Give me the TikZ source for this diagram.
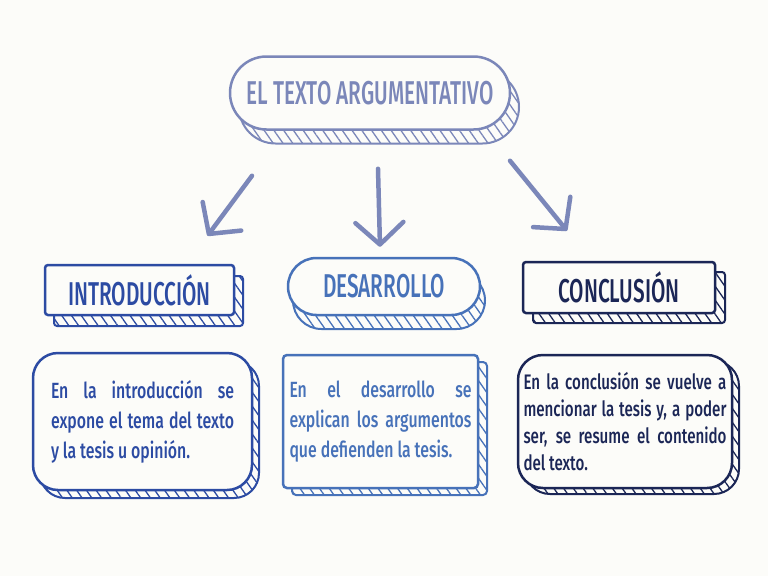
\documentclass[tikz,border=0pt]{standalone}
\usepackage{fontspec}
\usepackage{tikz}
\usetikzlibrary{arrows.meta,shadows,patterns.meta,shapes.misc}
\newfontfamily\headfont{Fira Sans Medium}[FakeStretch=0.63]
\newfontfamily\bodyfont{Fira Sans Medium}[FakeStretch=0.72]
\definecolor{bgc}{HTML}{FCFCF9}
\definecolor{titlec}{HTML}{7B87B9}
\definecolor{introc}{HTML}{2C4BA3}
\definecolor{desc}{HTML}{4772B9}
\definecolor{concc}{HTML}{1B2656}

\begin{document}
\begin{tikzpicture}[x=1pt,y=-1pt,
	depth/.style n args={3}{general shadow={shadow xshift=#1, shadow yshift=-#2, draw=#3, line width=2pt, pattern={Lines[angle=-55,distance=8pt,line width=1.3pt]}, pattern color=#3}},
	box/.style={draw=#1, fill=bgc, line width=2.5pt, text=#1, inner sep=0pt},
	head/.style={font=\headfont\fontsize{33}{33}\selectfont},
	body/.style={font=\bodyfont\fontsize{22}{30}\selectfont, align=justify},
	arr/.style={draw=titlec, line width=4.5pt, line cap=round, -{Straight Barb[length=22pt,width=48pt,round]}}]
	\fill[bgc] (0,0) rectangle (768,576);
	\useasboundingbox (0,0) rectangle (768,576);
	% heads
	\node[box=titlec, head, rounded rectangle, minimum width=280pt, minimum height=73pt, depth={9pt}{14pt}{titlec}] (title) at (370,93) {EL TEXTO ARGUMENTATIVO};
	\node[box=introc, head, minimum width=189pt, minimum height=50pt, rounded corners=3pt, depth={9pt}{11pt}{introc}] (intro) at (139.5,290) {INTRODUCCIÓN};
	\node[box=desc, head, rounded rectangle, minimum width=192pt, minimum height=57pt, depth={5pt}{14pt}{desc}] (desa) at (384,286.5) {DESARROLLO};
	\node[box=concc, head, minimum width=192pt, minimum height=51pt, rounded corners=3pt, depth={10pt}{10pt}{concc}] (conc) at (619,287.5) {CONCLUSIÓN};
	% texts
	\node[box=introc, body, text width=183pt, minimum height=137pt, inner xsep=18pt, rounded corners=25pt, depth={7pt}{8pt}{introc}] (intxt) at (142.5,421.5) {En la introducción se\linebreak expone el tema del texto\linebreak y la tesis u opinión.};
	\node[box=desc, body, text width=182pt, minimum height=133pt, inner xsep=6.5pt, rounded corners=4pt, depth={9pt}{7pt}{desc}] (detxt) at (380.5,421.5) {En el desarrollo se\linebreak explican los argumentos\linebreak que defienden la tesis.};
	\node[box=concc, body, font=\bodyfont\fontsize{21}{27}\selectfont, text width=203pt, minimum height=133pt, inner xsep=5.5pt, rounded corners=25pt, depth={7pt}{6pt}{concc}] (cotxt) at (625,421.5) {En la conclusión se vuelve a\linebreak mencionar la tesis y, a poder\linebreak ser, se resume el contenido\linebreak del texto.};
	% arrows
	\draw[arr] ([shift={(-118,45)}]title.south) -- ([shift={(68,-28)}]intro.north);
	\draw[arr] ([shift={(8,38)}]title.south) -- ([shift={(-4,-10)}]desa.north);
	\draw[arr] ([shift={(140,30)}]title.south) -- ([shift={(-52,-30)}]conc.north);
\end{tikzpicture}
\end{document}
